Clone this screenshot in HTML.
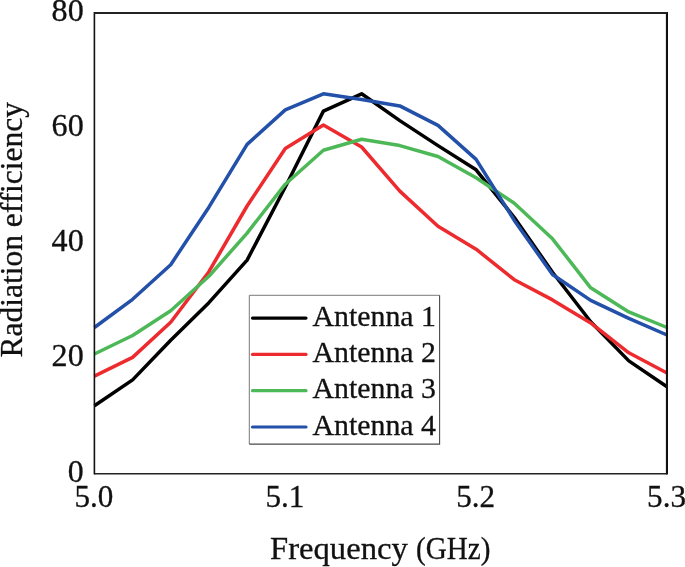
<!DOCTYPE html>
<html lang="en"><head><meta charset="utf-8"><title>Radiation efficiency</title>
<style>html,body{margin:0;padding:0;background:#fff;}body{width:685px;height:567px;overflow:hidden;}svg{display:block;}text{font-family:"Liberation Serif", serif;font-size:30.5px;fill:#111;stroke:#111;stroke-width:0.3px;}</style></head><body>
<svg width="685" height="567" viewBox="0 0 685 567">
<rect width="685" height="567" fill="#ffffff"/>
<g>
<polyline points="94.4,405.8 132.6,379.9 170.7,340.2 208.9,302.7 247.1,260.1 285.3,187.0 323.4,111.1 361.6,93.8 399.8,120.6 438.0,145.6 476.1,169.8 514.3,217.5 552.5,272.2 590.7,321.7 628.8,360.9 667.0,386.8" fill="none" stroke="#000000" stroke-width="3.5" stroke-linejoin="round" stroke-linecap="butt"/>
<polyline points="94.4,376.1 132.6,357.4 170.7,322.3 208.9,271.7 247.1,206.0 285.3,148.5 323.4,124.9 361.6,147.0 399.8,191.1 438.0,226.2 476.1,249.2 514.3,279.7 552.5,299.9 590.7,322.9 628.8,352.8 667.0,373.0" fill="none" stroke="#ed2b2f" stroke-width="3.5" stroke-linejoin="round" stroke-linecap="butt"/>
<polyline points="94.4,354.0 132.6,335.5 170.7,310.8 208.9,276.3 247.1,233.1 285.3,184.2 323.4,150.2 361.6,139.3 399.8,145.6 438.0,156.5 476.1,177.8 514.3,203.2 552.5,238.8 590.7,287.8 628.8,311.9 667.0,327.5" fill="none" stroke="#4db857" stroke-width="3.5" stroke-linejoin="round" stroke-linecap="butt"/>
<polyline points="94.4,327.5 132.6,299.3 170.7,264.7 208.9,207.2 247.1,144.4 285.3,109.9 323.4,93.8 361.6,99.5 399.8,105.9 438.0,125.4 476.1,159.4 514.3,220.4 552.5,274.5 590.7,300.4 628.8,318.3 667.0,335.0" fill="none" stroke="#2350a8" stroke-width="3.5" stroke-linejoin="round" stroke-linecap="butt"/>
</g>
<line x1="94.4" y1="12.1" x2="94.4" y2="474.4" stroke="#111" stroke-width="1.6"/>
<line x1="666.95" y1="12.1" x2="666.95" y2="474.4" stroke="#111" stroke-width="2.1"/>
<line x1="94.4" y1="13.0" x2="667.0" y2="13.0" stroke="#222" stroke-width="1.8"/>
<line x1="94.4" y1="473.7" x2="667.0" y2="473.7" stroke="#222" stroke-width="1.4"/>
<text x="83.7" y="21.0" text-anchor="end" textLength="32.1" lengthAdjust="spacingAndGlyphs" >80</text>
<text x="83.7" y="136.1" text-anchor="end" textLength="32.1" lengthAdjust="spacingAndGlyphs" >60</text>
<text x="83.7" y="251.2" text-anchor="end" textLength="32.1" lengthAdjust="spacingAndGlyphs" >40</text>
<text x="83.7" y="366.4" text-anchor="end" textLength="32.1" lengthAdjust="spacingAndGlyphs" >20</text>
<text x="83.7" y="481.5" text-anchor="end" textLength="15.9" lengthAdjust="spacingAndGlyphs" >0</text>
<text x="74.5" y="507.3" text-anchor="start" textLength="38.9" lengthAdjust="spacingAndGlyphs" >5.0</text>
<text x="265.4" y="507.3" text-anchor="start" textLength="38.9" lengthAdjust="spacingAndGlyphs" >5.1</text>
<text x="456.2" y="507.3" text-anchor="start" textLength="38.9" lengthAdjust="spacingAndGlyphs" >5.2</text>
<text x="647.1" y="507.3" text-anchor="start" textLength="38.9" lengthAdjust="spacingAndGlyphs" >5.3</text>
<text y="559.3"><tspan x="270" textLength="137.8" lengthAdjust="spacingAndGlyphs">Frequency</tspan> <tspan x="416" textLength="74.4" lengthAdjust="spacingAndGlyphs">(GHz)</tspan></text>
<text transform="translate(22,357.5) rotate(-90)" text-anchor="start" textLength="255.5" lengthAdjust="spacingAndGlyphs">Radiation efficiency</text>
<rect x="249.3" y="295.3" width="190.3" height="148.8" fill="#fff" stroke="none"/>
<path d="M249.3 444.1 V295.3 H439.6" fill="none" stroke="#7a7a7a" stroke-width="1"/>
<path d="M439.6 295.3 V444.1 H249.3" fill="none" stroke="#4a4a4a" stroke-width="1.1"/>
<line x1="252.5" y1="318.1" x2="306" y2="318.1" stroke="#000000" stroke-width="3.2" stroke-linecap="round"/>
<text x="312.6" y="325.6" text-anchor="start" textLength="123.3" lengthAdjust="spacingAndGlyphs" font-size="28.5" style="font-size:28.5px">Antenna 1</text>
<line x1="252.5" y1="354.4" x2="306" y2="354.4" stroke="#ed2b2f" stroke-width="3.2" stroke-linecap="round"/>
<text x="312.6" y="361.9" text-anchor="start" textLength="123.3" lengthAdjust="spacingAndGlyphs" font-size="28.5" style="font-size:28.5px">Antenna 2</text>
<line x1="252.5" y1="390.7" x2="306" y2="390.7" stroke="#4db857" stroke-width="3.2" stroke-linecap="round"/>
<text x="312.6" y="398.2" text-anchor="start" textLength="123.3" lengthAdjust="spacingAndGlyphs" font-size="28.5" style="font-size:28.5px">Antenna 3</text>
<line x1="252.5" y1="427.0" x2="306" y2="427.0" stroke="#2350a8" stroke-width="3.2" stroke-linecap="round"/>
<text x="312.6" y="434.5" text-anchor="start" textLength="123.3" lengthAdjust="spacingAndGlyphs" font-size="28.5" style="font-size:28.5px">Antenna 4</text>
</svg></body></html>
